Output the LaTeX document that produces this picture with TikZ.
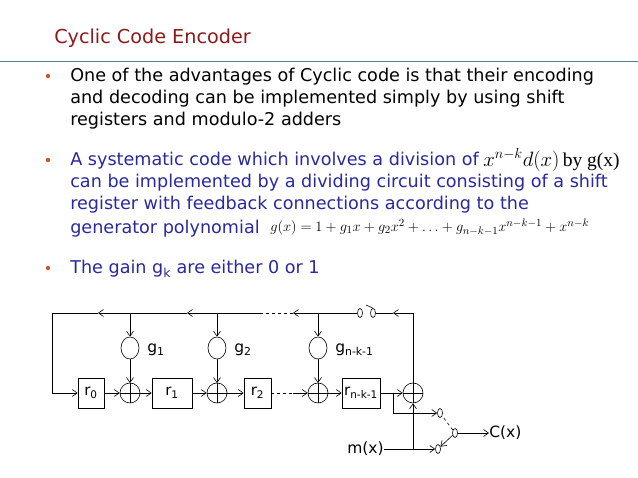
\documentclass[tikz,border=0pt]{standalone}
\usepackage{fontspec}
\setmainfont{DejaVu Sans}
\newfontfamily\timesf{Liberation Serif}
\usetikzlibrary{arrows.meta,shapes.geometric}
\definecolor{ttl}{RGB}{140,25,25}
\definecolor{blu}{RGB}{40,40,160}
\definecolor{bul}{RGB}{210,80,40}
\definecolor{rul}{RGB}{90,120,150}
\begin{document}
\begin{tikzpicture}[x=1pt,y=-1pt,
  txt/.style={anchor=west,inner sep=0pt,font=\fontsize{17.6}{19}\selectfont},
  reg/.style={draw,minimum height=30pt,inner sep=0pt,font=\fontsize{15}{16}\selectfont},
  add/.style={draw,circle,minimum size=20pt,inner sep=0pt,path picture={\draw (path picture bounding box.north)--(path picture bounding box.south) (path picture bounding box.west)--(path picture bounding box.east);}},
  gain/.style={draw,ellipse,minimum width=18pt,minimum height=22pt,inner sep=0pt},
  ct/.style={draw,ellipse,minimum width=5pt,minimum height=9pt,inner sep=0pt},
  lab/.style={inner sep=0pt,font=\fontsize{15.5}{16}\selectfont},
  ar/.style={-{Straight Barb[length=5pt,width=7pt]}},
  every path/.style={line width=0.6pt}]
\useasboundingbox (0,0) rectangle (638,478);
\node[anchor=west,inner sep=0pt,text=ttl,font=\fontsize{19.2}{21}\selectfont] (title) at (54,38) {Cyclic Code Encoder};
\draw[rul,line width=1pt] (0,62) -- (638,62);
\foreach \y in {76,160,268} \fill[bul] (48,\y) circle (2.2pt);
\node[txt] (a1) at (70,77) {One of the advantages of Cyclic code is that their encoding};
\node[txt] (a2) at (70,99) {and decoding can be implemented simply by using shift};
\node[txt] (a3) at (70,121) {registers and modulo-2 adders};
\node[txt,text=blu] (b1) at (70,161) {A systematic code which involves a division of};
\node[anchor=west,inner sep=0pt,font=\fontsize{19.5}{20}\selectfont] (b1m) at (483,160) {$x^{n-k}d(x)$\,\timesf by g(x)};
\node[txt,text=blu] (b2) at (70,183) {can be implemented by a dividing circuit consisting of a shift};
\node[txt,text=blu] (b3) at (70,205) {register with feedback connections according to the};
\node[txt,text=blu] (b4) at (70,229) {generator polynomial};
\node[anchor=west,inner sep=0pt,font=\fontsize{15.6}{16}\selectfont] (b4m) at (270,227) {$g(x)=1+g_1x+g_2x^2+\ldots+g_{n-k-1}x^{n-k-1}+x^{n-k}$};
\node[txt,text=blu] (c1) at (70,269) {The gain g\textsubscript{k} are either 0 or 1};
% diagram
\node[reg,minimum width=26pt] (r0) at (91,393) {r\textsubscript{0}};
\node[add] (s1) at (130,393) {};
\node[reg,minimum width=40pt] (r1) at (172,393) {r\textsubscript{1}};
\node[add] (s2) at (217,393) {};
\node[reg,minimum width=27pt] (r2) at (257.5,393) {r\textsubscript{2}};
\node[add] (s3) at (318,393) {};
\node[reg,minimum width=38pt] (r3) at (361,393) {r\textsubscript{n-k-1}};
\node[add] (s4) at (413,393) {};
\node[gain] (g1) at (130,348) {};
\node[gain] (g2) at (217,348) {};
\node[gain] (g3) at (318,348) {};
\node[lab,anchor=west] at (147,350) {g\textsubscript{1}};
\node[lab,anchor=west] at (234,350) {g\textsubscript{2}};
\node[lab,anchor=west] at (335,350) {g\textsubscript{n-k-1}};
\coordinate (tl) at (52,313);
\coordinate (tr) at (413,313);
\coordinate (bl) at (52,393);
\node[ct] (sw1) at (360,313) {};
\node[ct] (sw2) at (373,313) {};
\draw (sw2.north) -- (366,305);
\draw[ar] (tr) -- (393,313);
\draw (393,313) -- (sw2);
\draw (sw1) -- (330,313);
\draw[ar] (330,313) -- (293,313);
\draw[dashed] (293,313) -- (262,313);
\draw[ar] (262,313) -- (187,313);
\draw[ar] (187,313) -- (98,313);
\draw (98,313) -- (tl) -- (bl);
\draw[ar] (bl) -- (r0);
\foreach \g/\x in {g1/130,g2/217,g3/318}{\draw[ar] (\x,313) -- (\g); \draw[ar] (\g) -- (\x,383);}
\draw[ar] (r0) -- (s1);
\draw[ar] (s1) -- (r1);
\draw[ar] (r1) -- (s2);
\draw[ar] (s2) -- (r2);
\draw[dashed] (r2.east) -- (293,393);
\draw[ar] (293,393) -- (s3);
\draw[ar] (s3) -- (r3);
\draw[ar] (r3) -- (s4);
\draw (s4) -- (tr);
% output switch
\node[ct] (c1s) at (440,413) {};
\node[ct] (c2s) at (438,449) {};
\node[ct] (cp) at (455,433) {};
\node[lab,anchor=west] (cx) at (489,433) {C(x)};
\node[lab,anchor=east] (mx) at (384,449) {m(x)};
\draw (393,393) -- (393,413);
\draw[ar] (393,413) -- (c1s);
\draw[ar] (mx) -- (c2s);
\draw[ar] (413,449) -- (s4);
\draw[ar] (cp) -- (c2s);
\draw[dashed] (cp) -- (c1s);
\draw[ar] (cp) -- (cx);
\end{tikzpicture}
\end{document}
